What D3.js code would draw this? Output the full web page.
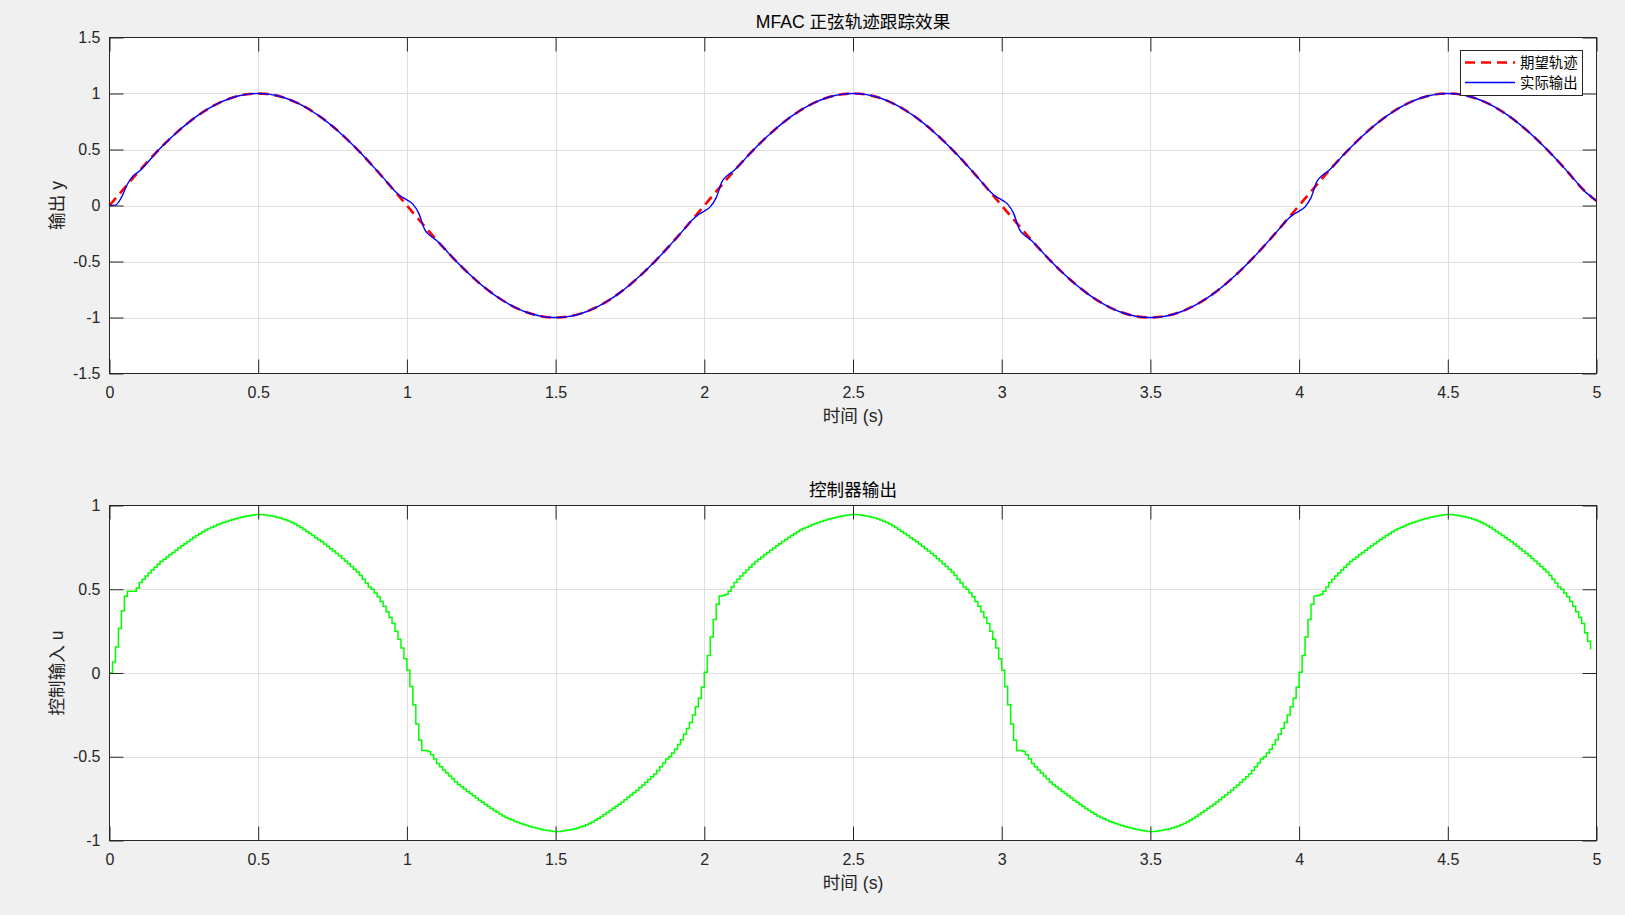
<!DOCTYPE html>
<html><head><meta charset="utf-8">
<script src="https://cdn.jsdelivr.net/npm/d3@7"></script>
<style>
html,body{margin:0;padding:0;background:#f0f0f0;}
svg{display:block;}
text{font-family:"Liberation Sans",Arial,"Noto Sans CJK SC",sans-serif;}
</style></head><body>
<svg id="chart" width="1625" height="915"></svg>
<script>
// ---------- data ----------
const xTicks = [0, 0.5, 1, 1.5, 2, 2.5, 3, 3.5, 4, 4.5, 5];
const yTicksTop = [-1.5, -1, -0.5, 0, 0.5, 1, 1.5];
const yTicksBottom = [-1, -0.5, 0, 0.5, 1];
const legendLabels = ["期望轨迹", "实际输出"];
const titleTop = "MFAC 正弦轨迹跟踪效果";
const titleBottom = "控制器输出";
const xLabel = "时间 (s)";
const yLabelTop = "输出 y";
const yLabelBottom = "控制输入 u";

const refStep = 0.05;   // desired trajectory sample spacing (s)
const outStep = 0.02;   // actual output sample spacing (s)
const ctrlStep = 0.01;  // controller output sample spacing (s)

// desired trajectory, t = 0 : 0.05 : 5
const refValues = [
  0,.156,.309,.454,.588,.707,.809,.891,.951,.988,1,.988,.951,.891,.809,.707,.588,.454,.309,.156,
  0,-.156,-.309,-.454,-.588,-.707,-.809,-.891,-.951,-.988,-1,-.988,-.951,-.891,-.809,-.707,-.588,-.454,-.309,-.156,
  0,.156,.309,.454,.588,.707,.809,.891,.951,.988,1,.988,.951,.891,.809,.707,.588,.454,.309,.156,
  0,-.156,-.309,-.454,-.588,-.707,-.809,-.891,-.951,-.988,-1,-.988,-.951,-.891,-.809,-.707,-.588,-.454,-.309,-.156,
  0,.156,.309,.454,.588,.707,.809,.891,.951,.988,1,.988,.951,.891,.809,.707,.588,.454,.309,.156,
  .04
];

// actual output, t = 0 : 0.02 : 5
const outValues = [
  0,.003,.072,.190,.265,.305,.360,.420,.482,.536,
  .588,.637,.685,.729,.771,.809,.844,.876,.905,.930,
  .951,.969,.982,.992,.998,1.0,.998,.992,.982,.969,
  .951,.930,.905,.876,.844,.809,.771,.729,.685,.637,
  .588,.536,.482,.426,.368,.309,.249,.187,.128,.082,
  .050,.012,-.070,-.215,-.272,-.313,-.366,-.425,-.482,-.536,
  -.588,-.637,-.685,-.729,-.771,-.809,-.844,-.876,-.905,-.930,
  -.951,-.969,-.982,-.992,-.998,-1.0,-.998,-.992,-.982,-.969,
  -.951,-.930,-.905,-.876,-.844,-.809,-.771,-.729,-.685,-.637,
  -.588,-.536,-.482,-.426,-.368,-.309,-.249,-.187,-.128,-.082,
  -.050,-.012,.070,.215,.272,.313,.366,.425,.482,.536,
  .588,.637,.685,.729,.771,.809,.844,.876,.905,.930,
  .951,.969,.982,.992,.998,1.0,.998,.992,.982,.969,
  .951,.930,.905,.876,.844,.809,.771,.729,.685,.637,
  .588,.536,.482,.426,.368,.309,.249,.187,.128,.082,
  .050,.012,-.070,-.215,-.272,-.313,-.366,-.425,-.482,-.536,
  -.588,-.637,-.685,-.729,-.771,-.809,-.844,-.876,-.905,-.930,
  -.951,-.969,-.982,-.992,-.998,-1.0,-.998,-.992,-.982,-.969,
  -.951,-.930,-.905,-.876,-.844,-.809,-.771,-.729,-.685,-.637,
  -.588,-.536,-.482,-.426,-.368,-.309,-.249,-.187,-.128,-.082,
  -.050,-.012,.070,.215,.272,.313,.366,.425,.482,.536,
  .588,.637,.685,.729,.771,.809,.844,.876,.905,.930,
  .951,.969,.982,.992,.998,1.0,.998,.992,.982,.969,
  .951,.930,.905,.876,.844,.809,.771,.729,.685,.637,
  .588,.536,.482,.426,.368,.309,.249,.187,.128,.082,
  .040
];

// controller output u, t = 0 : 0.01 : 4.98 (stairs)
const ctrlValues = [
  0,.066,.155,.265,.372,.458,.488,.488,.488,.508,
  .540,.560,.579,.597,.615,.632,.650,.665,.679,.693,
  .707,.720,.733,.746,.759,.772,.785,.797,.809,.821,
  .832,.843,.853,.862,.870,.878,.886,.893,.899,.905,
  .911,.916,.921,.926,.930,.934,.938,.941,.944,.946,
  .947,.946,.944,.941,.938,.934,.930,.925,.919,.913,
  .906,.898,.889,.879,.868,.857,.845,.833,.821,.808,
  .796,.783,.770,.756,.742,.728,.714,.700,.684,.668,
  .652,.636,.620,.603,.582,.560,.537,.514,.500,.478,
  .455,.427,.398,.366,.331,.295,.250,.202,.150,.085,
  .016,-.080,-.189,-.305,-.402,-.462,-.462,-.468,-.488,-.514,
  -.540,-.560,-.579,-.597,-.615,-.632,-.650,-.665,-.679,-.693,
  -.707,-.720,-.733,-.746,-.759,-.772,-.785,-.797,-.809,-.821,
  -.832,-.843,-.853,-.862,-.870,-.878,-.886,-.893,-.899,-.905,
  -.911,-.916,-.921,-.926,-.930,-.934,-.938,-.941,-.944,-.946,
  -.947,-.946,-.944,-.941,-.938,-.934,-.930,-.925,-.919,-.913,
  -.906,-.898,-.889,-.879,-.868,-.857,-.845,-.833,-.821,-.808,
  -.796,-.783,-.770,-.756,-.742,-.728,-.714,-.700,-.684,-.668,
  -.652,-.636,-.620,-.603,-.582,-.560,-.537,-.514,-.500,-.478,
  -.455,-.427,-.398,-.366,-.331,-.295,-.250,-.202,-.150,-.085,
  .004,.104,.215,.320,.410,.460,.462,.468,.488,.514,
  .540,.560,.579,.597,.615,.632,.650,.665,.679,.693,
  .707,.720,.733,.746,.759,.772,.785,.797,.809,.821,
  .832,.843,.853,.862,.870,.878,.886,.893,.899,.905,
  .911,.916,.921,.926,.930,.934,.938,.941,.944,.946,
  .947,.946,.944,.941,.938,.934,.930,.925,.919,.913,
  .906,.898,.889,.879,.868,.857,.845,.833,.821,.808,
  .796,.783,.770,.756,.742,.728,.714,.700,.684,.668,
  .652,.636,.620,.603,.582,.560,.537,.514,.500,.478,
  .455,.427,.398,.366,.331,.295,.250,.202,.150,.085,
  .016,-.080,-.189,-.305,-.402,-.462,-.462,-.468,-.488,-.514,
  -.540,-.560,-.579,-.597,-.615,-.632,-.650,-.665,-.679,-.693,
  -.707,-.720,-.733,-.746,-.759,-.772,-.785,-.797,-.809,-.821,
  -.832,-.843,-.853,-.862,-.870,-.878,-.886,-.893,-.899,-.905,
  -.911,-.916,-.921,-.926,-.930,-.934,-.938,-.941,-.944,-.946,
  -.947,-.946,-.944,-.941,-.938,-.934,-.930,-.925,-.919,-.913,
  -.906,-.898,-.889,-.879,-.868,-.857,-.845,-.833,-.821,-.808,
  -.796,-.783,-.770,-.756,-.742,-.728,-.714,-.700,-.684,-.668,
  -.652,-.636,-.620,-.603,-.582,-.560,-.537,-.514,-.500,-.478,
  -.455,-.427,-.398,-.366,-.331,-.295,-.250,-.202,-.150,-.085,
  .004,.104,.215,.320,.410,.460,.462,.468,.488,.514,
  .540,.560,.579,.597,.615,.632,.650,.665,.679,.693,
  .707,.720,.733,.746,.759,.772,.785,.797,.809,.821,
  .832,.843,.853,.862,.870,.878,.886,.893,.899,.905,
  .911,.916,.921,.926,.930,.934,.938,.941,.944,.946,
  .947,.946,.944,.941,.938,.934,.930,.925,.919,.913,
  .906,.898,.889,.879,.868,.857,.845,.833,.821,.808,
  .796,.783,.770,.756,.742,.728,.714,.700,.684,.668,
  .652,.636,.620,.603,.582,.560,.537,.514,.500,.478,
  .455,.427,.398,.366,.331,.295,.240,.190,.140
];

// ---------- layout ----------
const svg = d3.select("#chart");
const left = 109.5, right = 1596.5;
const panels = [
  {top: 37.5, bottom: 373.5, domain: [-1.5, 1.5], ticks: yTicksTop, title: titleTop, ylabel: yLabelTop},
  {top: 505.5, bottom: 840.5, domain: [-1, 1], ticks: yTicksBottom, title: titleBottom, ylabel: yLabelBottom}
];
const axisColor = "#262626";
const gridColor = "#dfdfdf";
const fontSize = 16;

const x = d3.scaleLinear().domain([0, 5]).range([left, right]);

panels.forEach((p, idx) => {
  const y = d3.scaleLinear().domain(p.domain).range([p.bottom, p.top]);
  p.y = y;
  const g = svg.append("g");
  g.append("rect").attr("x", left).attr("y", p.top)
    .attr("width", right - left).attr("height", p.bottom - p.top)
    .attr("fill", "#fff");
  g.append("g").selectAll("line").data(xTicks.slice(1, -1)).join("line")
    .attr("x1", d => Math.round(x(d)) + 0.5).attr("x2", d => Math.round(x(d)) + 0.5)
    .attr("y1", p.top).attr("y2", p.bottom)
    .attr("stroke", gridColor).attr("stroke-width", 1);
  g.append("g").selectAll("line").data(p.ticks.slice(1, -1)).join("line")
    .attr("y1", d => Math.round(y(d)) + 0.5).attr("y2", d => Math.round(y(d)) + 0.5)
    .attr("x1", left).attr("x2", right)
    .attr("stroke", gridColor).attr("stroke-width", 1);
  p.g = g;
});

function styleAxis(sel) {
  sel.select(".domain").remove();
  sel.selectAll(".tick line").attr("stroke", axisColor).attr("stroke-width", 1);
  sel.selectAll(".tick text").attr("fill", axisColor).attr("font-size", fontSize);
}

// ---------- plotted series ----------
const pTop = panels[0];
const refPts = refValues.map((v, i) => [i * refStep, v]);
const outPts = outValues.map((v, i) => [i * outStep, v]);
const ctrlPts = ctrlValues.map((v, i) => [i * ctrlStep, v]);

const lineTop = d3.line().x(d => x(d[0])).y(d => pTop.y(d[1])).curve(d3.curveMonotoneX);
pTop.g.append("path").datum(refPts).attr("d", lineTop)
  .attr("fill", "none").attr("stroke", "#ff0000").attr("stroke-width", 2.6)
  .attr("stroke-dasharray", "10,6");
pTop.g.append("path").datum(outPts).attr("d", lineTop)
  .attr("fill", "none").attr("stroke", "#0000ff").attr("stroke-width", 1.4);

const pBot = panels[1];
const lineBot = d3.line().x(d => x(d[0])).y(d => pBot.y(d[1])).curve(d3.curveStepAfter);
pBot.g.append("path").datum(ctrlPts).attr("d", lineBot)
  .attr("fill", "none").attr("stroke", "#00ff00").attr("stroke-width", 1.5);

// ---------- axes, box, labels ----------
panels.forEach(p => {
  const g = p.g;
  const fmt = d => String(d);
  g.append("g").attr("transform", `translate(0,${p.bottom})`)
    .call(d3.axisBottom(x).tickValues(xTicks).tickSize(-14).tickPadding(13).tickFormat(fmt))
    .call(styleAxis);
  g.append("g").attr("transform", `translate(0,${p.top})`)
    .call(d3.axisTop(x).tickValues(xTicks).tickSize(-14).tickFormat(""))
    .call(styleAxis);
  g.append("g").attr("transform", `translate(${left},0)`)
    .call(d3.axisLeft(p.y).tickValues(p.ticks).tickSize(-14).tickPadding(9).tickFormat(fmt))
    .call(styleAxis);
  g.append("g").attr("transform", `translate(${right},0)`)
    .call(d3.axisRight(p.y).tickValues(p.ticks).tickSize(-14).tickFormat(""))
    .call(styleAxis);
  g.selectAll(".tick text").attr("font-family", "'Liberation Sans', Arial, sans-serif");
  g.append("rect").attr("x", left).attr("y", p.top)
    .attr("width", right - left).attr("height", p.bottom - p.top)
    .attr("fill", "none").attr("stroke", axisColor).attr("stroke-width", 1);
  g.append("text").attr("x", (left + right) / 2).attr("y", p.top - 10)
    .attr("text-anchor", "middle").attr("font-size", 17.6).attr("fill", "#000")
    .text(p.title);
  g.append("text").attr("x", (left + right) / 2).attr("y", p.bottom + 48)
    .attr("text-anchor", "middle").attr("font-size", 17.6).attr("fill", axisColor)
    .text(xLabel);
  const cy = (p.top + p.bottom) / 2;
  g.append("text").attr("transform", `translate(63,${cy}) rotate(-90)`)
    .attr("text-anchor", "middle").attr("font-size", 17.6).attr("fill", axisColor)
    .text(p.ylabel);
});

// ---------- legend ----------
const lg = svg.append("g");
lg.append("rect").attr("x", 1460.5).attr("y", 50.5).attr("width", 122).attr("height", 45)
  .attr("fill", "#fff").attr("stroke", axisColor).attr("stroke-width", 1);
const legendStyles = [
  {color: "#ff0000", dash: "10,6", width: 2.6, y: 62.5},
  {color: "#0000ff", dash: null, width: 1.4, y: 82.5}
];
legendLabels.forEach((lab, i) => {
  const s = legendStyles[i];
  lg.append("line").attr("x1", 1465).attr("x2", 1515).attr("y1", s.y).attr("y2", s.y)
    .attr("stroke", s.color).attr("stroke-width", s.width)
    .attr("stroke-dasharray", s.dash);
  lg.append("text").attr("x", 1520).attr("y", s.y).attr("dy", "0.35em")
    .attr("font-size", 14.4).attr("fill", "#000").text(lab);
});
</script>
</body></html>
